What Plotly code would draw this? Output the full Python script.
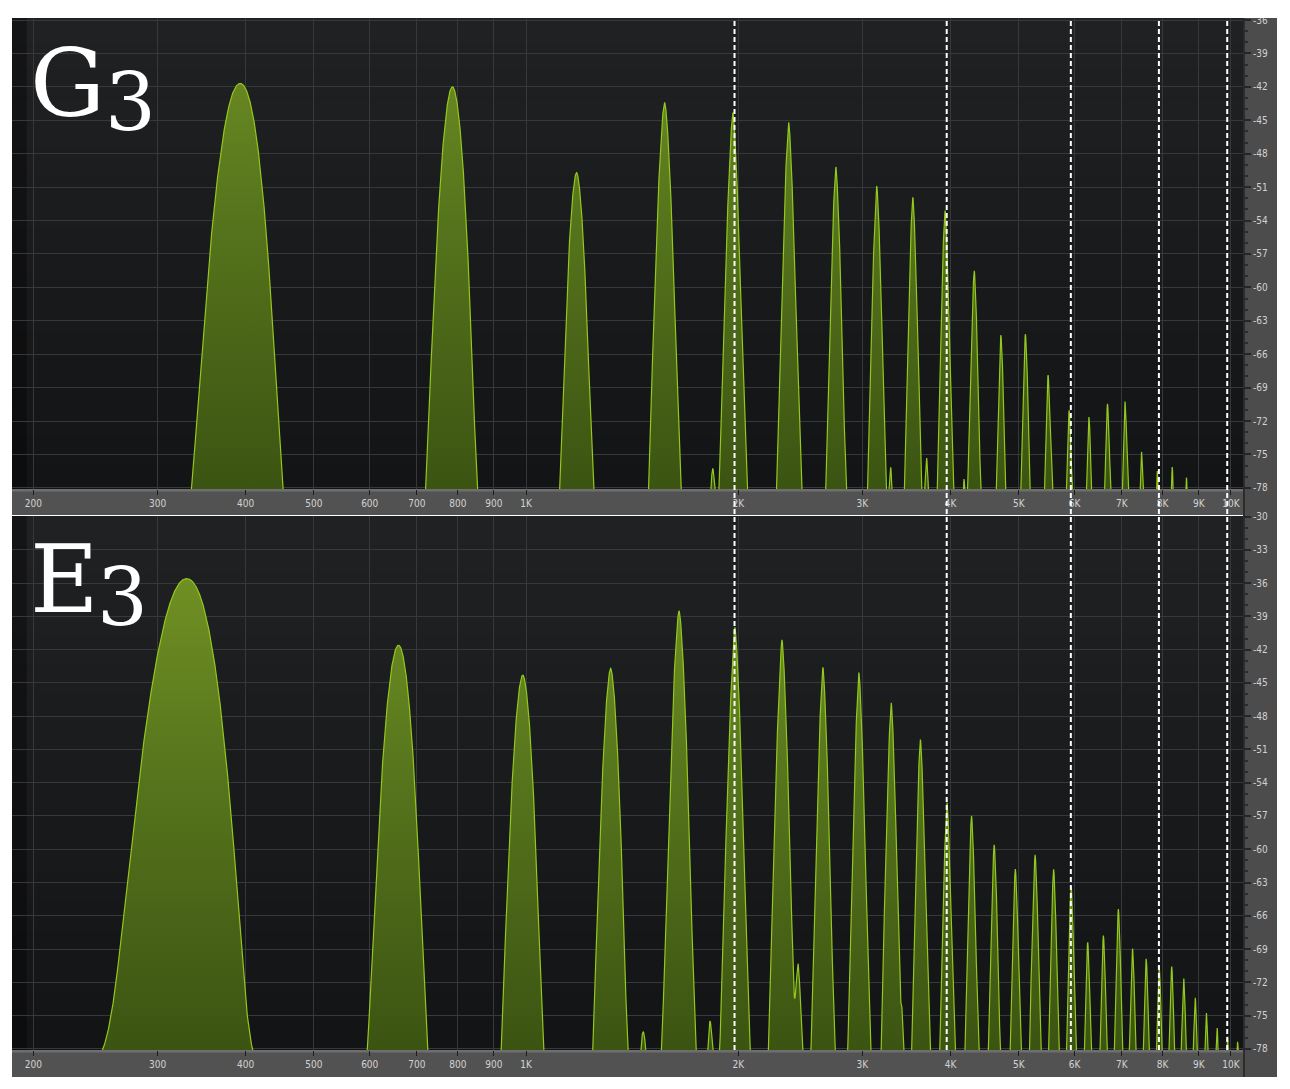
import numpy as np
import plotly.graph_objects as go

# ---- harmonic peaks of each note: frequency (Hz) and level (dB) ----
g3_freqs = [393, 786, 1179, 1572, 1965, 2358, 2751, 3144, 3537, 3930, 4323,
            4716, 5109, 5502, 5895, 6288, 6681, 7074, 7467, 7860, 8253, 8646]
g3_levels = [-41.7, -42.0, -49.7, -43.4, -44.3, -45.2, -49.2, -50.9, -51.9,
             -53.1, -58.5, -64.3, -64.2, -67.9, -71.1, -71.7, -70.5, -70.3,
             -74.9, -76.7, -76.3, -77.3]
# small non-harmonic bumps near the noise floor
g3_bump_freqs = [1840, 3290, 3700, 4180]
g3_bump_levels = [-76.6, -76.4, -75.5, -77.5]

e3_freqs = [330, 659, 989, 1318, 1648, 1978, 2307, 2637, 2966, 3296, 3626,
            3955, 4285, 4614, 4944, 5274, 5603, 5933, 6262, 6592, 6922, 7251,
            7581, 7910, 8240, 8570, 8899, 9229, 9558, 9888, 10218]
e3_levels = [-35.6, -41.6, -44.3, -43.7, -38.5, -40.0, -41.1, -43.6, -44.1,
             -46.8, -50.1, -55.8, -57.0, -59.6, -61.8, -60.5, -61.8, -63.4,
             -68.4, -67.8, -65.4, -69.0, -69.9, -70.6, -70.6, -71.7, -73.5,
             -74.9, -76.3, -77.1, -77.6]
e3_bump_freqs = [1466, 1824, 2431, 3411]
e3_bump_levels = [-76.7, -75.8, -70.5, -75.0]

# reference lines (Hz)
marker_freqs = [1975.5, 3951, 5926.5, 7902, 9877.5]

# axis ticks
x_tickvals = [200, 300, 400, 500, 600, 700, 800, 900, 1000, 2000, 3000, 4000,
              5000, 6000, 7000, 8000, 9000, 10000]
x_ticktext = ["200", "300", "400", "500", "600", "700", "800", "900", "1K",
              "2K", "3K", "4K", "5K", "6K", "7K", "8K", "9K", "10K"]
g3_db_ticks = list(range(-78, -35, 3))
e3_db_ticks = list(range(-78, -29, 3))

FLOOR_DB = -90.0


def lobe_width(f0):
    """Half-width (Hz) of an analyser lobe, 36 dB below its peak."""
    return 48.0 + 0.02 * f0


def lobe_exponent(f0):
    """Round lobes at low frequencies, pointier ones higher up."""
    t = np.clip((2000.0 - f0) / 1600.0, 0.0, 1.0)
    return 1.45 + 0.65 * t


def lobe(freq_grid, f0, lvl, w, p):
    db = lvl - 36.0 * (np.abs(freq_grid - f0) / w) ** p
    return 10 ** (np.maximum(db, -200) / 10)


def spectrum(freq_grid, peaks, first_width=None):
    power = np.full_like(freq_grid, 10 ** (FLOOR_DB / 10))
    for i, (f0, lvl) in enumerate(peaks):
        w = lobe_width(f0)
        if i == 0 and first_width is not None:
            w = first_width
        p = lobe_exponent(f0)
        power += lobe(freq_grid, f0, lvl, w, p)
        # faint wide skirt under the main lobe
        power += lobe(freq_grid, f0, lvl - 29.0, 2.6 * w, 1.2)
    return 10 * np.log10(power)


f_grid = np.geomspace(180, 10700, 10000)
g3_db = spectrum(f_grid, list(zip(g3_freqs, g3_levels)) +
                 list(zip(g3_bump_freqs, g3_bump_levels)))
e3_db = spectrum(f_grid, list(zip(e3_freqs, e3_levels)) +
                 list(zip(e3_bump_freqs, e3_bump_levels)),
                 first_width=66.0)

# ---- layout geometry (paper units) ----
W, H = 1290, 1089
ML, MR, MT, MB = 12, 47, 18, 39
plot_h = H - MT - MB
plot_w = W - ML - MR


def py(pix_y):
    return (H - MB - pix_y) / plot_h


def px(pix_x):
    return (pix_x - ML) / plot_w


top_dom = [py(489), 1.0]
bot_dom = [0.0, py(516)]

fig = go.Figure()

fill_scale = [[0.0, "rgb(60,84,18)"], [0.55, "rgb(86,116,28)"],
              [1.0, "rgb(114,146,36)"]]
edge = "#93c81e"

for xa, ya, ydb in [("x", "y", g3_db), ("x2", "y2", e3_db)]:
    fig.add_trace(go.Scatter(x=f_grid, y=np.full_like(f_grid, -100.0),
                             xaxis=xa, yaxis=ya, mode="lines",
                             line=dict(width=0), hoverinfo="skip",
                             showlegend=False))
    fig.add_trace(go.Scatter(x=f_grid, y=ydb, xaxis=xa, yaxis=ya,
                             mode="lines", fill="tonexty",
                             fillgradient=dict(type="vertical",
                                               colorscale=fill_scale,
                                               start=-78, stop=-34),
                             line=dict(color=edge, width=1.2),
                             hoverinfo="skip", showlegend=False))

x_range = [np.log10(186.5), np.log10(10400)]
font_axis = dict(family="DejaVu Sans Condensed, Liberation Sans Narrow, Roboto, sans-serif",
                 size=10, color="#d2d2d2")

xaxis_common = dict(type="log", range=x_range, tickmode="array",
                    tickvals=x_tickvals, ticktext=x_ticktext,
                    ticks="outside", ticklen=5, tickcolor="#1c1c1c",
                    tickwidth=1, tickfont=font_axis, showgrid=True,
                    gridcolor="#37383b", gridwidth=1, zeroline=False,
                    showline=False)


def yaxis_common(ticks, rng, dom):
    return dict(range=rng, domain=dom, side="right", tickmode="array",
                tickvals=ticks, ticktext=[str(t) for t in ticks],
                ticks="outside", ticklen=7, tickwidth=2, tickcolor="#262626",
                tickfont=dict(font_axis, size=10), showgrid=True,
                gridcolor="#37383b", gridwidth=1, zeroline=False,
                showline=False,
                minor=dict(tickmode="linear", tick0=0, dtick=1,
                           ticks="outside", ticklen=4, tickwidth=2,
                           tickcolor="#2c2c2c", showgrid=False))


fig.update_layout(
    width=W, height=H,
    margin=dict(l=ML, r=MR, t=MT, b=MB),
    paper_bgcolor="white",
    plot_bgcolor="#1c1d1f",
    xaxis=dict(xaxis_common, anchor="y", domain=[0, 1]),
    xaxis2=dict(xaxis_common, anchor="y2", domain=[0, 1]),
    yaxis=yaxis_common(g3_db_ticks, [-78.1, -35.82], top_dom),
    yaxis2=yaxis_common(e3_db_ticks, [-78.1, -29.95], bot_dom),
)

shapes = []
# grey rulers: frequency strips under each panel and the level strip on the right
band = "#525252"
for y0, y1 in [(py(515), py(489)), (py(1077), py(1050))]:
    shapes.append(dict(type="rect", xref="paper", yref="paper",
                       x0=0, x1=px(1277), y0=y0, y1=y1, layer="below",
                       fillcolor=band, line=dict(width=0)))
    shapes.append(dict(type="rect", xref="paper", yref="paper",
                       x0=0, x1=px(1277), y0=y1 - 0.0025, y1=y1, layer="below",
                       fillcolor="#6e6e6e", line=dict(width=0)))
shapes.append(dict(type="rect", xref="paper", yref="paper",
                   x0=1.0, x1=px(1277), y0=py(1077), y1=1.0, layer="below",
                   fillcolor="#4c4c4c", line=dict(width=0)))
shapes.append(dict(type="rect", xref="paper", yref="paper",
                   x0=1.0, x1=1.0015, y0=py(1077), y1=1.0, layer="below",
                   fillcolor="#2a2a2a", line=dict(width=0)))

# soft vertical shading of each panel background (lighter at the top)
n_steps = 18
for xr, yr in [("x domain", "y domain"), ("x2 domain", "y2 domain")]:
    for k in range(n_steps):
        t = k / (n_steps - 1)
        c = int(round(19 + 13 * t))
        shapes.append(dict(type="rect", xref=xr, yref=yr, x0=0, x1=1,
                           y0=k / n_steps, y1=(k + 1) / n_steps, layer="below",
                           fillcolor=f"rgb({c},{c + 1},{c + 3})",
                           line=dict(width=0)))
    # darker left edge
    shapes.append(dict(type="rect", xref=xr, yref=yr, x0=0, x1=0.012,
                       y0=0, y1=1, layer="below",
                       fillcolor="rgba(0,0,0,0.35)", line=dict(width=0)))

# dashed reference lines through both panels
for f in marker_freqs:
    shapes.append(dict(type="line", xref="x", yref="paper", x0=f, x1=f,
                       y0=0, y1=1, layer="above",
                       line=dict(color="white", width=2, dash="5px,3px")))

# white margin above the top panel
shapes.append(dict(type="rect", xref="paper", yref="paper", x0=-0.02, x1=1.05,
                   y0=1.0, y1=1.05, layer="above", fillcolor="white",
                   line=dict(width=0)))

fig.update_layout(shapes=shapes)

# note names: capital letter plus a lowered octave digit
letter_font = dict(family="DejaVu Serif, Liberation Serif, serif", size=94,
                   color="white")
digit_font = dict(letter_font, size=80)
fig.add_annotation(text="G", xref="paper", yref="paper", x=px(29),
                   y=py(83), xanchor="left", yanchor="middle",
                   showarrow=False, font=letter_font, borderpad=0)
fig.add_annotation(text="3", xref="paper", yref="paper", x=px(104),
                   y=py(102), xanchor="left", yanchor="middle",
                   showarrow=False, font=digit_font, borderpad=0)
fig.add_annotation(text="E", xref="paper", yref="paper", x=px(29),
                   y=py(579), xanchor="left", yanchor="middle",
                   showarrow=False, font=letter_font, borderpad=0)
fig.add_annotation(text="3", xref="paper", yref="paper", x=px(96),
                   y=py(597), xanchor="left", yanchor="middle",
                   showarrow=False, font=digit_font, borderpad=0)

fig.write_html("out.html")
